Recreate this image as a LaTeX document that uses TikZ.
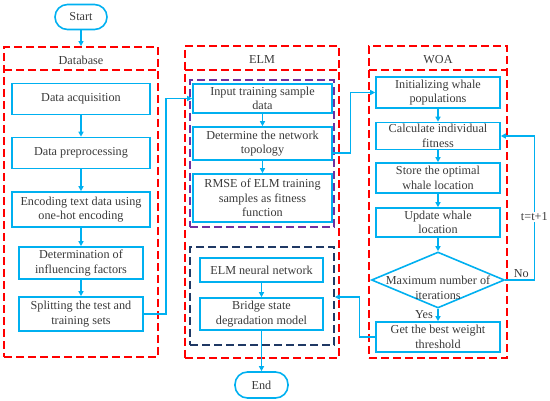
\documentclass[tikz,border=0pt]{standalone}
\usepackage{fontspec}
\setmainfont{Liberation Serif}
\usetikzlibrary{arrows.meta,shapes.geometric,calc}
\definecolor{cy}{HTML}{00B0F0}
\definecolor{pu}{HTML}{7030A0}
\definecolor{nv}{HTML}{1F3864}
\definecolor{tx}{HTML}{3A3A3A}
\tikzset{
  box/.style={draw=cy, line width=1.6pt, align=center, inner sep=0pt, text=tx,
    font=\fontsize{12.2}{14.5}\selectfont},
  term/.style={box, rounded corners=12.5pt},
  grp/.style={draw=red, line width=1.8pt, dash pattern=on 8pt off 4pt, inner sep=0pt},
  sub/.style={line width=1.6pt, dash pattern=on 8pt off 4pt, inner sep=0pt},
  hdr/.style={text=tx, font=\fontsize{12.2}{14.5}\selectfont, inner sep=0pt},
  lbl/.style={text=tx, font=\fontsize{12.2}{14.5}\selectfont, inner sep=1pt},
  arr/.style={draw=cy, line width=1.4pt, -{Triangle[length=5pt,width=5pt]}},
}
\begin{document}
\begin{tikzpicture}[x=1pt,y=-1pt]
\useasboundingbox (0,0) rectangle (550,401);
% groups
\node[grp, minimum width=154pt, minimum height=310pt] (db) at (81,202) {};
\draw[grp] (4,70) -- (158,70);
\node[hdr] (dbh) at (81,60) {Database};
\node[grp, minimum width=154pt, minimum height=312pt] (elm) at (262,202) {};
\draw[grp] (185,70) -- (339,70);
\node[hdr] (elmh) at (262,60) {ELM};
\node[grp, minimum width=138pt, minimum height=312pt] (woa) at (438,202) {};
\draw[grp] (369,70) -- (507,70);
\node[hdr] (woah) at (438,60) {WOA};
\node[sub, draw=pu, minimum width=144pt, minimum height=147pt] (pur) at (262,153.5) {};
\node[sub, draw=nv, minimum width=144pt, minimum height=98pt] (nav) at (262,296) {};
% terminals
\node[term, minimum width=52pt, minimum height=25pt] (start) at (81,17) {Start};
\node[term, minimum width=53pt, minimum height=26pt] (end) at (261.5,385) {End};
% database
\node[box, minimum width=138pt, minimum height=31pt] (d1) at (81,99) {Data acquisition};
\node[box, minimum width=138pt, minimum height=31pt] (d2) at (81,153) {Data preprocessing};
\node[box, minimum width=138pt, minimum height=35pt] (d3) at (81,209.5) {Encoding text data using\\one-hot encoding};
\node[box, minimum width=124pt, minimum height=32pt] (d4) at (81,263) {Determination of\\influencing factors};
\node[box, minimum width=124pt, minimum height=34pt] (d5) at (81,314) {Splitting the test and\\training sets};
% elm
\node[box, minimum width=139pt, minimum height=29pt] (e1) at (262.5,98.5) {Input training sample\\data};
\node[box, minimum width=139pt, minimum height=33pt] (e2) at (262.5,143.5) {Determine the network\\topology};
\node[box, minimum width=139pt, minimum height=48pt] (e3) at (262.5,198) {RMSE of ELM training\\samples as fitness\\function};
\node[box, minimum width=123pt, minimum height=24pt] (e4) at (261.5,270) {ELM neural network};
\node[box, minimum width=123pt, minimum height=32pt] (e5) at (261.5,314) {Bridge state\\degradation model};
% woa
\node[box, minimum width=124pt, minimum height=31pt] (w1) at (438,92.5) {Initializing whale\\populations};
\node[box, minimum width=124pt, minimum height=27pt] (w2) at (438,136) {Calculate individual\\fitness};
\node[box, minimum width=124pt, minimum height=30pt] (w3) at (438,178) {Store the optimal\\whale location};
\node[box, minimum width=124pt, minimum height=29pt] (w4) at (438,222.5) {Update whale\\location};
\node[box, shape=diamond, minimum width=133pt, minimum height=56pt] (dia) at (438,280) {};
\node[hdr, align=center] (diat) at (438,288) {Maximum number of\\iterations};
\node[box, minimum width=124pt, minimum height=30pt] (w5) at (438,337) {Get the best weight\\threshold};
% connectors
\draw[arr] (start) -- (db.north);
\draw[arr] (d1) -- (d2);
\draw[arr] (d2) -- (d3);
\draw[arr] (d3) -- (d4);
\draw[arr] (d4) -- (d5);
\draw[arr] (d5.east) -- ++(22,0) |- (e1.west);
\draw[arr] (e1) -- (e2);
\draw[arr] (e2) -- (e3);
\draw[arr] ([yshift=-9.5pt]e2.east) -- ++(17.5,0) |- (w1.west);
\draw[arr] (e4) -- (e5);
\draw[arr] (e5) -- (end);
\draw[arr] (w1) -- (w2);
\draw[arr] (w2) -- (w3);
\draw[arr] (w3) -- (w4);
\draw[arr] (w4) -- (dia.north);
\draw[arr] (dia.south) -- (w5);
\node[lbl] (yes) at (424,315) {Yes};
\draw[arr] (dia.east) -- ++(29,0) coordinate (c1) |- node[lbl, fill=white, pos=0.22] (tt) {t=t+1} (w2.east);
\node[lbl, anchor=south] (no) at ([xshift=-13pt,yshift=1pt]c1) {No};
\draw[arr] (w5.west) -- ++(-16,0) |- ([yshift=-1pt]nav.east);
\end{tikzpicture}
\end{document}
